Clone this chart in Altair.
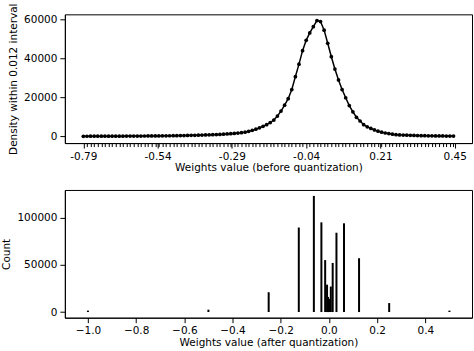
import altair as alt
import pandas as pd

# ---- top panel: density of weights before quantization (0.012-wide intervals)
BIN_START = -0.786
BIN_WIDTH = 0.012
density = [
    85, 90, 95, 100, 105, 110, 115, 120, 125, 130,
    140, 150, 160, 170, 180, 190, 200, 215, 230, 245,
    260, 280, 300, 320, 345, 370, 400, 430, 465, 500,
    540, 580, 630, 680, 740, 800, 870, 950, 1040, 1140,
    1250, 1380, 1530, 1700, 1900, 2200, 2600, 3100, 3700, 4400,
    5200, 6000, 7100, 8400, 10400, 13000, 16000, 19300, 24000, 30600,
    37000, 43900, 49200, 53000, 56200, 59300, 58800, 54400, 47700, 40800,
    34500, 28900, 24000, 19800, 15800, 12600, 9800, 7900, 6000, 4900,
    4100, 3300, 2700, 2200, 1750, 1450, 1150, 900, 780, 690,
    610, 540, 480, 430, 390, 350, 320, 290, 265, 245,
    225, 210, 195, 180,
]
bins = [round(BIN_START + BIN_WIDTH * i, 3) for i in range(len(density))]
major_ticks = [-0.786, -0.538, -0.29, -0.042, 0.206, 0.454]
major_labels = ["-0.79", "-0.54", "-0.29", "-0.04", "0.21", "0.45"]
top_y_ticks = [0, 20000, 40000, 60000]

# ---- bottom panel: counts after quantization
quant_levels = [-1.0, -0.5, -0.25, -0.125, -0.0625, -0.03125, -0.015625, -0.0078125,
                -0.00390625, 0.0, 0.00390625, 0.0078125, 0.015625, 0.03125, 0.0625,
                0.125, 0.25, 0.5]
quant_counts = [1500, 2500, 21000, 89500, 123000, 95000, 55000, 29000,
                16000, 8000, 14000, 27000, 52000, 84000, 94000,
                57000, 9500, 1500]
bottom_x_ticks = [-1.0, -0.8, -0.6, -0.4, -0.2, 0.0, 0.2, 0.4]
bottom_y_ticks = [0, 50000, 100000]

FONT = "DejaVu Sans"
FS = 10.5

top_df = pd.DataFrame({"x": bins, "y": density})
bot_df = pd.DataFrame({"x": quant_levels, "y": quant_counts})

majors_js = "[" + ",".join(str(v) for v in major_ticks) + "]"
labels_js = "[" + ",".join("'" + s + "'" for s in major_labels) + "]"
is_major = f"indexof({majors_js}, datum.value) >= 0"
label_expr = f"{is_major} ? {labels_js}[indexof({majors_js}, datum.value)] : ''"

top_x = alt.X(
    "x:Q",
    scale=alt.Scale(domain=[-0.8478, 0.5118], nice=False, zero=False),
    axis=alt.Axis(
        title="Weights value (before quantization)",
        values=bins + major_ticks,
        labelExpr=label_expr,
        labelOverlap=False,
        labelFlush=False,
        tickSize={"condition": {"test": is_major, "value": 5}, "value": 3.5},
        labelPadding=3,
        titlePadding=1,
    ),
)
top_y = alt.Y(
    "y:Q",
    scale=alt.Scale(domain=[-3400, 62500], nice=False, zero=False),
    axis=alt.Axis(title="Density within 0.012 interval", values=top_y_ticks,
                  format="d", tickSize=5, labelPadding=3, titlePadding=5),
)

base_top = alt.Chart(top_df).encode(x=top_x, y=top_y)
line = base_top.mark_line(color="black", strokeWidth=1.5)
pts = base_top.mark_circle(color="black", size=14, opacity=1)
top = alt.layer(line, pts).properties(width=408, height=129)

bottom = alt.Chart(bot_df).mark_bar(color="black", size=2).encode(
    x=alt.X(
        "x:Q",
        scale=alt.Scale(domain=[-1.075, 0.573], nice=False, zero=False),
        axis=alt.Axis(
            title="Weights value (after quantization)",
            values=bottom_x_ticks,
            labelExpr="(datum.value < -0.0001 ? '\u2212' : '') + format(abs(datum.value), '.1f')",
            labelFlush=False,
            tickSize=5,
            labelPadding=3,
            titlePadding=1,
        ),
    ),
    y=alt.Y(
        "y:Q",
        scale=alt.Scale(domain=[-6000, 129300], nice=False, zero=False),
        axis=alt.Axis(title="Count", values=bottom_y_ticks, format="d",
                      tickSize=5, labelPadding=3, titlePadding=5),
    ),
    y2=alt.datum(0),
).properties(width=408, height=128)

chart = (
    alt.vconcat(top, bottom, spacing=15)
    .properties(padding={"left": 1, "top": 2, "right": 1, "bottom": 0},
                background="white")
    .configure_view(stroke="black", strokeWidth=1)
    .configure_axis(
        grid=False,
        domainColor="black",
        tickColor="black",
        labelColor="black",
        titleColor="black",
        labelFont=FONT,
        titleFont=FONT,
        labelFontSize=FS,
        titleFontSize=FS,
        titleFontWeight="normal",
    )
)

chart.save("out.html", embed_options={"renderer": "svg", "actions": False})
